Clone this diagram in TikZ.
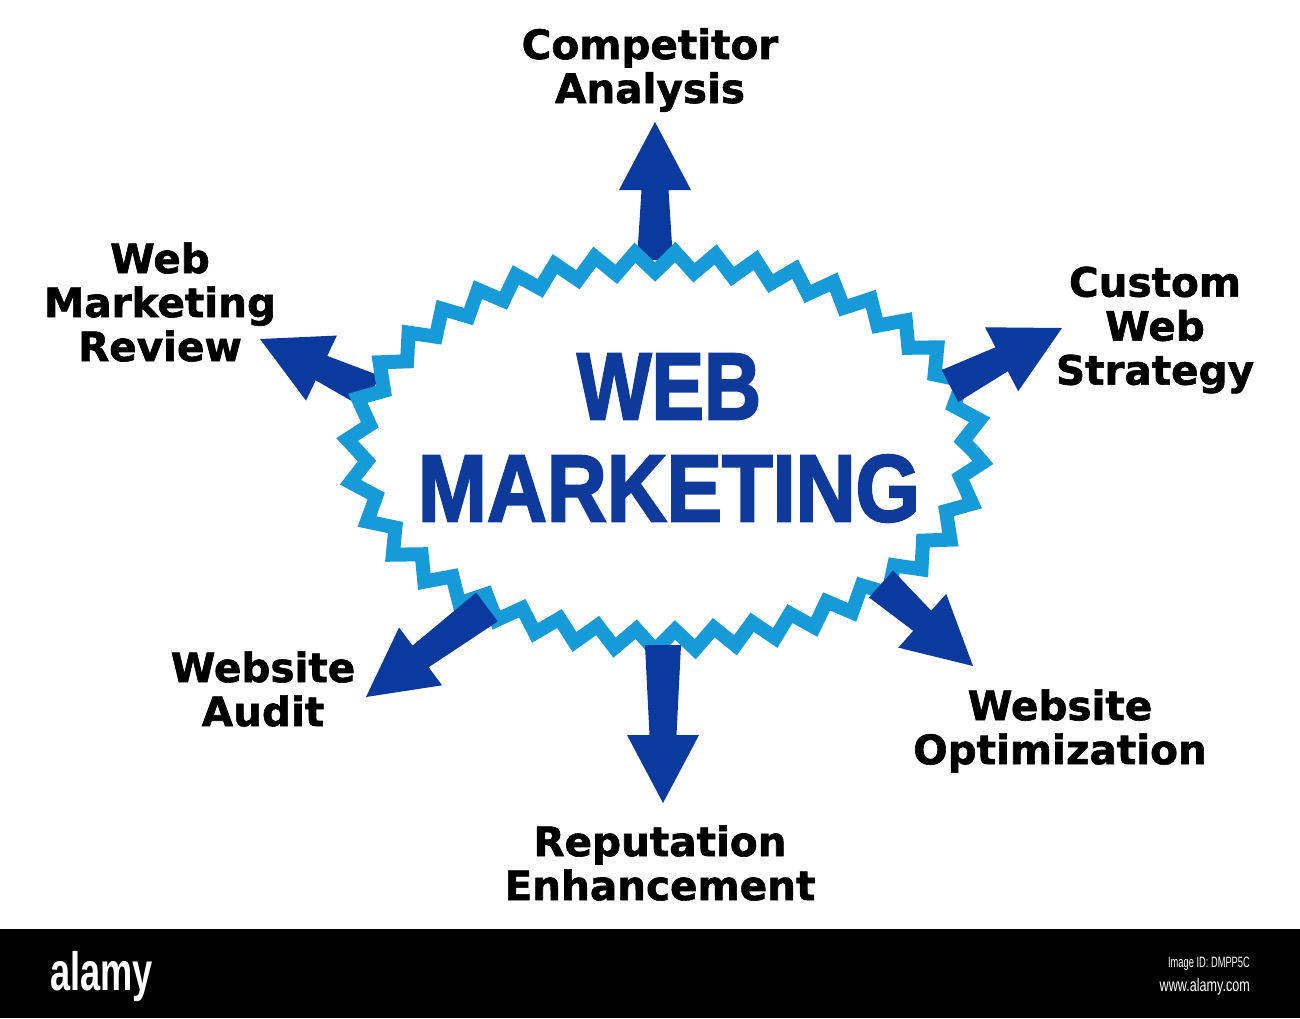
\documentclass[tikz,border=0pt]{standalone}
\usepackage{fontspec}
\setmainfont{DejaVu Sans}
\newfontfamily\headfont{Liberation Sans}
\newfontfamily\titlefont{Liberation Sans Bold}[FakeBold=2.5]
\newfontfamily\lblfont{DejaVu Sans Bold}[FakeBold=1.5]
\usetikzlibrary{calc,decorations.pathmorphing}
\definecolor{arrowblue}{RGB}{10,58,158}
\definecolor{titleblue}{RGB}{14,58,156}
\definecolor{rimblue}{RGB}{22,154,216}
% tapered block arrow from coordinate #1 (base) to coordinate #2 (tip)
\newcommand\spokearrow[2]{%
  \coordinate (#1h) at ($(#2)!68pt!(#1)$);
  \fill[arrowblue]
    ($(#1)!18pt!90:(#2)$) -- ($(#1h)!13.5pt!-90:(#1)$) -- ($(#1h)!36pt!-90:(#1)$)
    -- (#2)
    -- ($(#1h)!36pt!90:(#1)$) -- ($(#1h)!13.5pt!90:(#1)$) -- ($(#1)!18pt!-90:(#2)$)
    -- cycle;}
\begin{document}
\begin{tikzpicture}[x=1pt,y=-1pt,
  lbl/.style={font=\lblfont\fontsize{40.5}{44}\selectfont, align=center, text=black, inner sep=0pt},
  rim/.style={draw=rimblue, line width=14pt, line join=miter,
    decorate, decoration={zigzag,segment length=39.6pt,amplitude=10pt}},
  wm/.style={text=white, inner sep=0pt},
]
\useasboundingbox (0,0) rectangle (1300,1018);
\fill[white] (0,0) rectangle (1300,1018);

% arrow end points
\coordinate (b1) at (655,260);  \coordinate (t1) at (655,122);
\coordinate (b2) at (950,386);  \coordinate (t2) at (1062,328);
\coordinate (b3) at (372,392);  \coordinate (t3) at (260,339);
\coordinate (b4) at (487,607);  \coordinate (t4) at (366,697);
\coordinate (b5) at (663,645);  \coordinate (t5) at (663,803);
\coordinate (b6) at (881,584);  \coordinate (t6) at (973,666);
\coordinate (hubc) at (665,451);

% arrows behind the rim
\spokearrow{b1}{t1}
\spokearrow{b3}{t3}

% zigzag rim
\draw[rim] (hubc) ellipse [x radius=308pt, y radius=189pt];

% arrows over the rim
\spokearrow{b2}{t2}
\spokearrow{b4}{t4}
\spokearrow{b5}{t5}
\spokearrow{b6}{t6}

% title
\node[inner sep=0pt, align=center, text=titleblue,
      font=\titlefont\fontsize{95}{102}\selectfont] (title) at (669,438)
  {\scalebox{0.83}[1]{WEB}\\\scalebox{0.873}[1]{MARKETING}};

% labels
\node[lbl] (competitor) at (650,70) {Competitor\\Analysis};
\node[lbl] (review) at (160,302) {Web\\Marketing\\Review};
\node[lbl] (custom) at (1155,330) {Custom\\Web\\Strategy};
\node[lbl] (audit) at (263,689) {Website\\Audit};
\node[lbl] (optim) at (1060,731) {Website\\Optimization};
\node[lbl] (reput) at (660,863) {Reputation\\Enhancement};

% stock bar
\fill[black] (0,929) rectangle (1300,1018);
\node[wm, anchor=base west] (alamy) at (50,990)
  {\headfont\bfseries\fontsize{54}{54}\selectfont\scalebox{0.67}[1]{alamy}};
\node[wm, anchor=base east] (imgid) at (1250,967.5)
  {\headfont\fontsize{15}{15}\selectfont\scalebox{0.62}[1]{Image ID: DMPP5C}};
\node[wm, anchor=base east] (site) at (1250,991)
  {\headfont\fontsize{18}{18}\selectfont\scalebox{0.7}[1]{www.alamy.com}};
\end{tikzpicture}
\end{document}
